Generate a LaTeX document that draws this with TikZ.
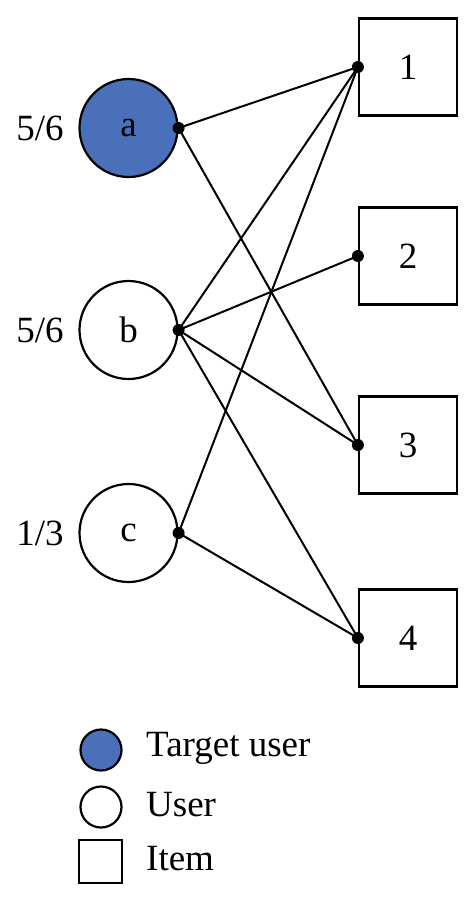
\documentclass[tikz,border=0pt]{standalone}
\usepackage{fontspec}
\setmainfont{Liberation Serif}
\definecolor{target}{RGB}{74,112,185}
\tikzset{
  user/.style={circle,draw=black,line width=2.2pt,minimum size=98pt,inner sep=0pt,font=\fontsize{37}{40}\selectfont},
  tuser/.style={user,fill=target},
  item/.style={rectangle,draw=black,line width=2.2pt,minimum width=98pt,minimum height=97pt,inner sep=0pt,font=\fontsize{37}{40}\selectfont},
  lbl/.style={font=\fontsize{37}{40}\selectfont,inner sep=0pt},
  edge/.style={line width=2pt},
  dot/.style={circle,fill=black,inner sep=0pt,minimum size=12pt},
  legc/.style={circle,draw=black,line width=2.2pt,minimum size=41pt,inner sep=0pt},
  legs/.style={rectangle,draw=black,line width=2.2pt,minimum size=43pt,inner sep=0pt}
}
\begin{document}
\begin{tikzpicture}[x=1pt,y=-1pt]
\useasboundingbox (0,0) rectangle (474,900);
\node[tuser] (a) at (128.5,128) {a};
\node[user] (b) at (128.5,330) {b};
\node[user] (c) at (128.5,533) {c};
\node[lbl] (la) at (40,128) {5/6};
\node[lbl] (lb) at (40,330) {5/6};
\node[lbl] (lc) at (40,533) {1/3};
\node[item] (i1) at (408,67) {1};
\node[item] (i2) at (408,256) {2};
\node[item] (i3) at (408,445) {3};
\node[item] (i4) at (408,638) {4};
\draw[edge] (a.east) -- (i1.west);
\draw[edge] (a.east) -- (i3.west);
\draw[edge] (b.east) -- (i1.west);
\draw[edge] (b.east) -- (i2.west);
\draw[edge] (b.east) -- (i3.west);
\draw[edge] (b.east) -- (i4.west);
\draw[edge] (c.east) -- (i1.west);
\draw[edge] (c.east) -- (i4.west);
\foreach \n in {a,b,c} \node[dot] (d\n) at (\n.east) {};
\foreach \n in {i1,i2,i3,i4} \node[dot] (d\n) at (\n.west) {};
\node[legc,fill=target] (lg1) at (101,750) {};
\node[legc] (lg2) at (101,807) {};
\node[legs] (lg3) at (100.5,861.5) {};
\node[lbl,anchor=west] (lt1) at (146,748) {Target user};
\node[lbl,anchor=west] (lt2) at (146,805) {User};
\node[lbl,anchor=west] (lt3) at (146,859) {Item};
\end{tikzpicture}
\end{document}
